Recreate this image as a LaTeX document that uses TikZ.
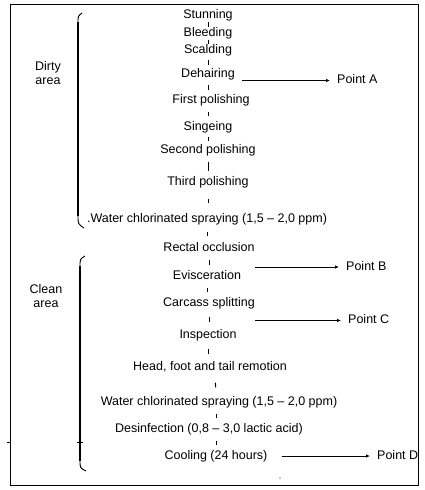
\documentclass[tikz,border=0pt]{standalone}
\usepackage{fontspec}
\setmainfont{Liberation Sans}
\usepackage{tikz}
\usetikzlibrary{arrows.meta,positioning}

\begin{document}
\begin{tikzpicture}[x=1pt, y=-1pt, on grid,
    every node/.style={font=\fontsize{12.5}{14}\selectfont},
    stepbox/.style={inner sep=0pt, text height=9pt, text depth=3pt},
    link/.style={line width=1pt, shorten <=#1, shorten >=#1},
    topoint/.style={-{Latex[length=4pt,width=3.5pt]}, line width=1pt, shorten >=7pt},
    pointlbl/.style={anchor=west, inner sep=0pt, text height=9pt, text depth=3pt},
    brace/.style={line width=1.8pt},
    curl/.style={line width=0.9pt}]
    \useasboundingbox (0,0) rectangle (424,490);
    \draw[line width=1pt] (10.5,4.5) rectangle (418,485);

    % Dirty area
    \node[stepbox] (s1) at (208,15.5) {Stunning};
    \node[stepbox, below=18pt of s1] (s2) {Bleeding};
    \node[stepbox, below=17pt of s2] (s3) {Scalding};
    \node[stepbox, below=24pt of s3] (s4) {Dehairing};
    \node[stepbox, below=26pt of s4, xshift=3pt] (s5) {First polishing};
    \node[stepbox, below=27pt of s5, xshift=-3pt] (s6) {Singeing};
    \node[stepbox, below=23pt of s6] (s7) {Second polishing};
    \node[stepbox, below=32pt of s7] (s8) {Third polishing};
    \node[stepbox, below=37pt of s8, xshift=-1pt] (s9) {.Water chlorinated spraying (1,5 – 2,0 ppm)};

    % Clean area
    \node[stepbox, below=29pt of s9, xshift=2pt] (s10) {Rectal occlusion};
    \node[stepbox, below=28pt of s10, xshift=-2pt] (s11) {Evisceration};
    \node[stepbox, below=27pt of s11, xshift=2pt] (s12) {Carcass splitting};
    \node[stepbox, below=32pt of s12, xshift=-1pt] (s13) {Inspection};
    \node[stepbox, below=32pt of s13, xshift=2pt] (s14) {Head, foot and tail remotion};
    \node[stepbox, below=35pt of s14, xshift=9pt] (s15) {Water chlorinated spraying (1,5 – 2,0 ppm)};
    \node[stepbox, below=27pt of s15, xshift=-10pt] (s16) {Desinfection (0,8 – 3,0 lactic acid)};
    \node[stepbox, below=27pt of s16, xshift=7pt] (s17) {Cooling (24 hours)};

    \draw[link=0.5pt] (s1.south) -- (s1.south |- s2.north);
    \draw[link=0pt] (s2.south) -- (s2.south |- s3.north);
    \draw[link=3.5pt] (s3.south) -- (s3.south |- s4.north);
    \draw[link=4.5pt] (s4.south) -- (s4.south |- s5.north);
    \draw[link=5pt] (s6.north |- s5.south) -- (s6.north);
    \draw[link=3pt] (s6.south) -- (s6.south |- s7.north);
    \draw[link=5pt] (s7.south) -- (s7.south |- s8.north);
    \draw[link=10pt] (s8.south) -- (s8.south |- s9.north);
    \draw[link=6pt] (s9.south) -- (s9.south |- s10.north);
    \draw[link=5.5pt] (s10.south) -- (s10.south |- s11.north);
    \draw[link=5pt] (s11.south) -- (s11.south |- s12.north);
    \draw[link=7.5pt] (s12.south) -- (s12.south |- s13.north);
    \draw[link=7.5pt] (s13.south) -- (s13.south |- s14.north);
    \draw[link=9pt] (s14.south) ++(5pt,0) -- (s15.north -| s17);
    \draw[link=5pt] (s15.south -| s17) -- (s16.north -| s17);
    \draw[link=5pt] (s16.south -| s17) -- (s17.north);

    % Areas
    \node[align=center] (dirty) at (48,73) {Dirty\\area};
    \node[align=center] (clean) at (46,296) {Clean\\area};
    \draw[brace] (78,22) -- (78,216);
    \draw[curl] (78,23) .. controls (78,16) .. (82,13);
    \draw[curl] (78,215) .. controls (78,224) .. (84,228);
    \draw[brace] (80,266) -- (80,461);
    \draw[curl] (80,267) .. controls (80,259) .. (85,256);
    \draw[curl] (80,460) .. controls (80,468) .. (86,471);
    \draw[line width=0.8pt] (77,442) -- (83,442);
    \draw[line width=0.8pt] (7,442) -- (10.5,442);
    \fill (280,478) circle (0.7pt);

    % Points
    \node[pointlbl] (pA) at (337,80.5) {Point A};
    \node[pointlbl] (pB) at (346,267) {Point B};
    \node[pointlbl] (pC) at (348,320.5) {Point C};
    \node[pointlbl] (pD) at (377,456) {Point D};
    \draw[topoint] ([xshift=7pt]s4.east |- pA.west) -- (pA.west);
    \draw[topoint] (s10.east |- pB.west) -- (pB.west);
    \draw[topoint] (s12.east |- pC.west) -- (pC.west);
    \draw[topoint] ([xshift=14pt]s17.east |- pD.west) -- (pD.west);
\end{tikzpicture}
\end{document}
